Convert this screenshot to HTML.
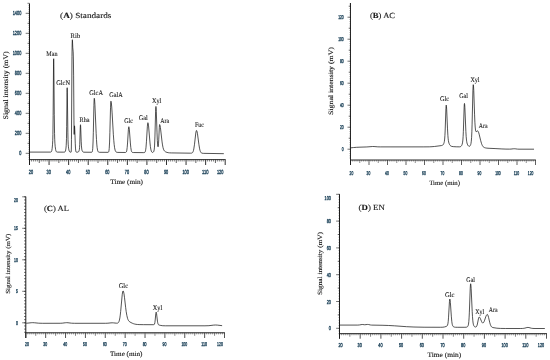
<!DOCTYPE html>
<html lang="en">
<head>
<meta charset="utf-8">
<title>Chromatograms</title>
<style>
html,body{margin:0;padding:0;background:#fff;}
body{width:550px;height:360px;overflow:hidden;}
svg{display:block;}
text{font-family:"Liberation Serif","DejaVu Serif",serif;fill:#161616;text-rendering:geometricPrecision;}
.tk{font-family:"Liberation Sans","DejaVu Sans",sans-serif;fill:#264a60;stroke:#264a60;stroke-width:0.4px;}
.pk{font-size:7px;stroke:#161616;stroke-width:0.1px;}
.al{stroke:#161616;stroke-width:0.12px;}
.ti{font-size:7.8px;stroke:#161616;stroke-width:0.1px;}
</style>
</head>
<body>
<svg width="550" height="360" viewBox="0 0 550 360">
<rect x="0" y="0" width="550" height="360" fill="#ffffff"/>
<g>
<path d="M29.5 3.5 V165" stroke="#1c1c1c" stroke-width="1.05" fill="none"/>
<path d="M29.2 159.6 H225.6" stroke="#1c1c1c" stroke-width="0.9" fill="none"/>
<path d="M29.5 159.6v5.4M49.07 159.6v5.4M68.64 159.6v5.4M88.21 159.6v5.4M107.78 159.6v5.4M127.35 159.6v5.4M146.92 159.6v5.4M166.49 159.6v5.4M186.06 159.6v5.4M205.63 159.6v5.4M225.2 159.6v5.4" stroke="#1c1c1c" stroke-width="0.9" fill="none"/>
<path d="M39.28 159.6v3.4M58.86 159.6v3.4M78.43 159.6v3.4M98 159.6v3.4M117.56 159.6v3.4M137.13 159.6v3.4M156.7 159.6v3.4M176.28 159.6v3.4M195.84 159.6v3.4M215.42 159.6v3.4" stroke="#1c1c1c" stroke-width="0.7" fill="none"/>
<path d="M31.46 159.6v1.9M33.41 159.6v1.9M35.37 159.6v1.9M37.33 159.6v1.9M41.24 159.6v1.9M43.2 159.6v1.9M45.16 159.6v1.9M47.11 159.6v1.9M51.03 159.6v1.9M52.98 159.6v1.9M54.94 159.6v1.9M56.9 159.6v1.9M60.81 159.6v1.9M62.77 159.6v1.9M64.73 159.6v1.9M66.68 159.6v1.9M70.6 159.6v1.9M72.55 159.6v1.9M74.51 159.6v1.9M76.47 159.6v1.9M80.38 159.6v1.9M82.34 159.6v1.9M84.3 159.6v1.9M86.25 159.6v1.9M90.17 159.6v1.9M92.12 159.6v1.9M94.08 159.6v1.9M96.04 159.6v1.9M99.95 159.6v1.9M101.91 159.6v1.9M103.87 159.6v1.9M105.82 159.6v1.9M109.74 159.6v1.9M111.69 159.6v1.9M113.65 159.6v1.9M115.61 159.6v1.9M119.52 159.6v1.9M121.48 159.6v1.9M123.44 159.6v1.9M125.39 159.6v1.9M129.31 159.6v1.9M131.26 159.6v1.9M133.22 159.6v1.9M135.18 159.6v1.9M139.09 159.6v1.9M141.05 159.6v1.9M143.01 159.6v1.9M144.96 159.6v1.9M148.88 159.6v1.9M150.83 159.6v1.9M152.79 159.6v1.9M154.75 159.6v1.9M158.66 159.6v1.9M160.62 159.6v1.9M162.58 159.6v1.9M164.53 159.6v1.9M168.45 159.6v1.9M170.4 159.6v1.9M172.36 159.6v1.9M174.32 159.6v1.9M178.23 159.6v1.9M180.19 159.6v1.9M182.15 159.6v1.9M184.1 159.6v1.9M188.02 159.6v1.9M189.97 159.6v1.9M191.93 159.6v1.9M193.89 159.6v1.9M197.8 159.6v1.9M199.76 159.6v1.9M201.72 159.6v1.9M203.67 159.6v1.9M207.59 159.6v1.9M209.54 159.6v1.9M211.5 159.6v1.9M213.46 159.6v1.9M217.37 159.6v1.9M219.33 159.6v1.9M221.29 159.6v1.9M223.24 159.6v1.9" stroke="#1c1c1c" stroke-width="0.55" fill="none"/>
<path d="M29.5 153.3h-3.8M29.5 143.3h-2M29.5 133.3h-3.8M29.5 123.3h-2M29.5 113.3h-3.8M29.5 103.3h-2M29.5 93.3h-3.8M29.5 83.3h-2M29.5 73.3h-3.8M29.5 63.3h-2M29.5 53.3h-3.8M29.5 43.3h-2M29.5 33.3h-3.8M29.5 23.3h-2M29.5 13.3h-3.8M29.5 3.3h-2" stroke="#1c1c1c" stroke-width="0.6" fill="none"/>
<path d="M29.5 159.3h-1M29.5 157.3h-1M29.5 155.3h-1M29.5 153.3h-1M29.5 151.3h-1M29.5 149.3h-1M29.5 147.3h-1M29.5 145.3h-1M29.5 143.3h-1M29.5 141.3h-1M29.5 139.3h-1M29.5 137.3h-1M29.5 135.3h-1M29.5 133.3h-1M29.5 131.3h-1M29.5 129.3h-1M29.5 127.3h-1M29.5 125.3h-1M29.5 123.3h-1M29.5 121.3h-1M29.5 119.3h-1M29.5 117.3h-1M29.5 115.3h-1M29.5 113.3h-1M29.5 111.3h-1M29.5 109.3h-1M29.5 107.3h-1M29.5 105.3h-1M29.5 103.3h-1M29.5 101.3h-1M29.5 99.3h-1M29.5 97.3h-1M29.5 95.3h-1M29.5 93.3h-1M29.5 91.3h-1M29.5 89.3h-1M29.5 87.3h-1M29.5 85.3h-1M29.5 83.3h-1M29.5 81.3h-1M29.5 79.3h-1M29.5 77.3h-1M29.5 75.3h-1M29.5 73.3h-1M29.5 71.3h-1M29.5 69.3h-1M29.5 67.3h-1M29.5 65.3h-1M29.5 63.3h-1M29.5 61.3h-1M29.5 59.3h-1M29.5 57.3h-1M29.5 55.3h-1M29.5 53.3h-1M29.5 51.3h-1M29.5 49.3h-1M29.5 47.3h-1M29.5 45.3h-1M29.5 43.3h-1M29.5 41.3h-1M29.5 39.3h-1M29.5 37.3h-1M29.5 35.3h-1M29.5 33.3h-1M29.5 31.3h-1M29.5 29.3h-1M29.5 27.3h-1M29.5 25.3h-1M29.5 23.3h-1M29.5 21.3h-1M29.5 19.3h-1M29.5 17.3h-1M29.5 15.3h-1M29.5 13.3h-1M29.5 11.3h-1M29.5 9.3h-1M29.5 7.3h-1M29.5 5.3h-1" stroke="#1c1c1c" stroke-width="0.5" fill="none"/>
<text x="21.3" y="155.45" text-anchor="end" class="tk" font-size="6.0" textLength="2.15" lengthAdjust="spacingAndGlyphs">0</text>
<text x="21.3" y="135.45" text-anchor="end" class="tk" font-size="6.0" textLength="6.45" lengthAdjust="spacingAndGlyphs">200</text>
<text x="21.3" y="115.45" text-anchor="end" class="tk" font-size="6.0" textLength="6.45" lengthAdjust="spacingAndGlyphs">400</text>
<text x="21.3" y="95.45" text-anchor="end" class="tk" font-size="6.0" textLength="6.45" lengthAdjust="spacingAndGlyphs">600</text>
<text x="21.3" y="75.45" text-anchor="end" class="tk" font-size="6.0" textLength="6.45" lengthAdjust="spacingAndGlyphs">800</text>
<text x="21.3" y="55.45" text-anchor="end" class="tk" font-size="6.0" textLength="8.6" lengthAdjust="spacingAndGlyphs">1000</text>
<text x="21.3" y="35.45" text-anchor="end" class="tk" font-size="6.0" textLength="8.6" lengthAdjust="spacingAndGlyphs">1200</text>
<text x="21.3" y="15.45" text-anchor="end" class="tk" font-size="6.0" textLength="8.6" lengthAdjust="spacingAndGlyphs">1400</text>
<text x="30.9" y="173.5" text-anchor="middle" class="tk" font-size="6.0" textLength="4.3" lengthAdjust="spacingAndGlyphs">20</text>
<text x="48.67" y="173.5" text-anchor="middle" class="tk" font-size="6.0" textLength="4.3" lengthAdjust="spacingAndGlyphs">30</text>
<text x="68.24" y="173.5" text-anchor="middle" class="tk" font-size="6.0" textLength="4.3" lengthAdjust="spacingAndGlyphs">40</text>
<text x="87.81" y="173.5" text-anchor="middle" class="tk" font-size="6.0" textLength="4.3" lengthAdjust="spacingAndGlyphs">50</text>
<text x="107.38" y="173.5" text-anchor="middle" class="tk" font-size="6.0" textLength="4.3" lengthAdjust="spacingAndGlyphs">60</text>
<text x="126.95" y="173.5" text-anchor="middle" class="tk" font-size="6.0" textLength="4.3" lengthAdjust="spacingAndGlyphs">70</text>
<text x="146.52" y="173.5" text-anchor="middle" class="tk" font-size="6.0" textLength="4.3" lengthAdjust="spacingAndGlyphs">80</text>
<text x="166.09" y="173.5" text-anchor="middle" class="tk" font-size="6.0" textLength="4.3" lengthAdjust="spacingAndGlyphs">90</text>
<text x="185.66" y="173.5" text-anchor="middle" class="tk" font-size="6.0" textLength="6.45" lengthAdjust="spacingAndGlyphs">100</text>
<text x="205.23" y="173.5" text-anchor="middle" class="tk" font-size="6.0" textLength="6.45" lengthAdjust="spacingAndGlyphs">110</text>
<text x="220.2" y="173.5" text-anchor="middle" class="tk" font-size="6.0" textLength="6.45" lengthAdjust="spacingAndGlyphs">120</text>
<path d="M29.89 152.1 L50.52 152.1 L50.99 152.02 L51.3 151.79 L51.54 151.42 L51.77 150.74 L52.16 148.5 L52.51 144.81 L52.75 140.34 L52.91 134.47 L53.14 115.65 L53.53 64.96 L53.61 59.83 L53.69 58.72 L53.85 66.13 L54.28 114.19 L54.55 133.7 L54.71 139.23 L54.9 143.15 L55.21 146.73 L55.61 149.49 L55.92 150.8 L56.27 151.59 L56.51 151.85 L56.74 152 L57.45 152.12 L63.83 152.15 L64.61 152.09 L64.96 151.91 L65.23 151.55 L65.47 150.94 L65.7 149.93 L65.98 148.09 L66.21 145.59 L66.49 138.64 L66.68 126.32 L67.04 92.56 L67.11 88.59 L67.19 87.73 L67.39 95.96 L67.86 132.87 L68.01 139.61 L68.21 144.19 L68.37 146.21 L68.6 148.17 L68.91 149.93 L69.23 151.05 L69.54 151.66 L69.93 152.01 L70.32 152.13 L70.99 152.17 L71.11 152.15 L71.18 152.01 L71.26 151.32 L71.34 149.09 L71.46 139.7 L71.97 56.28 L72.16 43.86 L72.28 40.43 L72.36 39.72 L72.48 40.85 L72.79 47.83 L73.18 51.85 L73.42 59.99 L73.61 75.87 L73.96 120.92 L74.12 133.19 L74.16 134.23 L74.2 134.45 L74.24 133.94 L74.43 126.86 L74.51 125.82 L74.59 126.25 L74.78 129.52 L75.25 143.18 L75.49 148.07 L75.76 150.92 L75.96 151.73 L76.19 152.08 L76.55 152.18 L77.6 152.18 L78.03 152.1 L78.39 151.91 L78.7 151.55 L78.97 151 L79.21 150.24 L79.36 149.45 L79.56 147.71 L79.76 144.37 L80.26 127.96 L80.38 125.42 L80.5 124.73 L80.62 125.67 L80.73 127.88 L81.2 141.21 L81.44 145.9 L81.75 149.07 L81.99 150.19 L82.26 150.95 L82.57 151.51 L82.97 151.91 L83.4 152.12 L83.98 152.21 L91.58 152.25 L91.85 152.19 L92.05 152.07 L92.32 151.55 L92.55 150.37 L92.75 148.38 L93.06 142.03 L93.34 132.34 L93.92 105.33 L94.12 99.75 L94.28 98.28 L94.43 98.67 L94.59 99.84 L94.9 104.27 L96.16 133.54 L96.47 139.49 L96.78 144.05 L97.13 147.62 L97.56 150.18 L97.8 150.98 L98.03 151.51 L98.35 151.92 L98.7 152.15 L99.17 152.26 L99.87 152.3 L107.94 152.34 L108.25 152.27 L108.48 152.11 L108.68 151.79 L108.84 151.32 L109.03 150.26 L109.23 148.41 L109.58 142.04 L109.89 132.3 L110.52 107.8 L110.72 102.92 L110.83 101.46 L110.91 101.18 L110.99 101.23 L111.11 101.52 L111.3 102.55 L111.73 106.94 L112.12 112.9 L113.34 134.29 L113.77 140.28 L114.16 144.45 L114.59 147.71 L115.1 150.09 L115.37 150.88 L115.69 151.5 L116.04 151.92 L116.43 152.18 L116.98 152.34 L117.84 152.42 L125.28 152.47 L125.71 152.42 L125.98 152.31 L126.21 152.1 L126.41 151.77 L126.65 151.09 L126.84 150.18 L127.19 147.43 L127.55 142.99 L128.37 129.74 L128.6 127.44 L128.72 126.86 L128.84 126.72 L128.95 126.91 L129.11 127.62 L129.39 129.95 L130.36 142.99 L130.79 147.46 L131.26 150.4 L131.54 151.35 L131.81 151.92 L132.05 152.2 L132.36 152.4 L132.75 152.5 L133.3 152.54 L143.75 152.64 L144.42 152.57 L144.85 152.32 L145.2 151.77 L145.51 150.75 L145.78 149.19 L146.02 147.21 L146.45 141.77 L147.39 126.21 L147.66 123.47 L147.78 122.88 L147.9 122.69 L148.06 122.87 L148.21 123.42 L148.56 125.86 L150.01 142.97 L150.4 146.53 L150.79 149.09 L151.26 150.98 L151.54 151.64 L151.85 152.11 L152.2 152.37 L152.6 152.45 L153.03 152.32 L153.42 152 L153.65 151.66 L153.85 151.23 L154.16 149.91 L154.4 147.9 L154.59 145.06 L154.94 136.08 L155.61 111.25 L155.77 107.72 L155.92 106.46 L156 106.65 L156.12 107.73 L156.31 111.37 L157.02 132.87 L157.33 140.42 L157.64 144.95 L157.8 146.16 L158 146.81 L158.07 146.8 L158.15 146.64 L158.27 146.09 L158.51 143.84 L158.78 139.17 L159.33 127.27 L159.48 125.22 L159.56 124.69 L159.64 124.53 L159.84 124.79 L160.03 125.39 L160.42 127.51 L162.07 141.93 L162.5 144.93 L162.97 147.37 L163.48 149.15 L163.79 149.91 L164.1 150.47 L164.45 150.94 L164.89 151.36 L165.39 151.72 L166.02 152.05 L167.04 152.42 L168.17 152.68 L169.5 152.83 L171.27 152.92 L190.52 153.18 L191.62 153.1 L192.28 152.82 L192.71 152.36 L193.11 151.61 L193.46 150.52 L193.81 148.95 L194.44 144.77 L195.81 133 L196.2 131.02 L196.39 130.56 L196.55 130.47 L196.75 130.65 L196.98 131.24 L197.41 133.27 L198.94 144.72 L199.64 148.85 L199.99 150.3 L200.39 151.46 L200.78 152.24 L201.25 152.8 L201.6 153.04 L202.03 153.2 L203.28 153.35 L223.83 153.68" stroke="#0a0a0a" stroke-width="0.7" fill="none" stroke-linejoin="round"/>
<text x="46.3" y="55.8" class="pk" textLength="11.2" lengthAdjust="spacingAndGlyphs">Man</text>
<text x="56.2" y="85" class="pk" textLength="13.8" lengthAdjust="spacingAndGlyphs">GlcN</text>
<text x="70.5" y="38" class="pk" textLength="9.5" lengthAdjust="spacingAndGlyphs">Rib</text>
<text x="79.5" y="122" class="pk" textLength="10" lengthAdjust="spacingAndGlyphs">Rha</text>
<text x="89.2" y="94.7" class="pk" textLength="13.8" lengthAdjust="spacingAndGlyphs">GlcA</text>
<text x="109.2" y="96.7" class="pk" textLength="13.6" lengthAdjust="spacingAndGlyphs">GalA</text>
<text x="124.2" y="122.5" class="pk" textLength="8.8" lengthAdjust="spacingAndGlyphs">Glc</text>
<text x="138.8" y="120" class="pk" textLength="9" lengthAdjust="spacingAndGlyphs">Gal</text>
<text x="152" y="103" class="pk" textLength="9.3" lengthAdjust="spacingAndGlyphs">Xyl</text>
<text x="160.3" y="122.5" class="pk" textLength="8.9" lengthAdjust="spacingAndGlyphs">Ara</text>
<text x="195" y="126.7" class="pk" textLength="9" lengthAdjust="spacingAndGlyphs">Fuc</text>
<text x="60.1" y="18" class="ti" textLength="51.3" lengthAdjust="spacingAndGlyphs">(<tspan font-weight="bold">A</tspan>) Standards</text>
<text transform="translate(7.7 85.4) rotate(-90)" text-anchor="middle" font-size="7.0" class="al" textLength="68.2" lengthAdjust="spacingAndGlyphs">Signal intensity (mV)</text>
<text x="110.3" y="183.7" font-size="6.8" class="al" textLength="32.7" lengthAdjust="spacingAndGlyphs">Time (min)</text>
</g>
<g>
<path d="M350.5 3 V165" stroke="#1c1c1c" stroke-width="0.95" fill="none"/>
<path d="M350.2 160 H535.9" stroke="#1c1c1c" stroke-width="0.95" fill="none"/>
<path d="M350.5 160v5M369 160v5M387.5 160v5M406 160v5M424.5 160v5M443 160v5M461.5 160v5M480 160v5M498.5 160v5M517 160v5M535.5 160v5" stroke="#1c1c1c" stroke-width="0.7" fill="none"/>
<path d="M359.75 160v3M378.25 160v3M396.75 160v3M415.25 160v3M433.75 160v3M452.25 160v3M470.75 160v3M489.25 160v3M507.75 160v3M526.25 160v3" stroke="#1c1c1c" stroke-width="0.5" fill="none"/>
<path d="M352.35 160v1.6M354.2 160v1.6M356.05 160v1.6M357.9 160v1.6M361.6 160v1.6M363.45 160v1.6M365.3 160v1.6M367.15 160v1.6M370.85 160v1.6M372.7 160v1.6M374.55 160v1.6M376.4 160v1.6M380.1 160v1.6M381.95 160v1.6M383.8 160v1.6M385.65 160v1.6M389.35 160v1.6M391.2 160v1.6M393.05 160v1.6M394.9 160v1.6M398.6 160v1.6M400.45 160v1.6M402.3 160v1.6M404.15 160v1.6M407.85 160v1.6M409.7 160v1.6M411.55 160v1.6M413.4 160v1.6M417.1 160v1.6M418.95 160v1.6M420.8 160v1.6M422.65 160v1.6M426.35 160v1.6M428.2 160v1.6M430.05 160v1.6M431.9 160v1.6M435.6 160v1.6M437.45 160v1.6M439.3 160v1.6M441.15 160v1.6M444.85 160v1.6M446.7 160v1.6M448.55 160v1.6M450.4 160v1.6M454.1 160v1.6M455.95 160v1.6M457.8 160v1.6M459.65 160v1.6M463.35 160v1.6M465.2 160v1.6M467.05 160v1.6M468.9 160v1.6M472.6 160v1.6M474.45 160v1.6M476.3 160v1.6M478.15 160v1.6M481.85 160v1.6M483.7 160v1.6M485.55 160v1.6M487.4 160v1.6M491.1 160v1.6M492.95 160v1.6M494.8 160v1.6M496.65 160v1.6M500.35 160v1.6M502.2 160v1.6M504.05 160v1.6M505.9 160v1.6M509.6 160v1.6M511.45 160v1.6M513.3 160v1.6M515.15 160v1.6M518.85 160v1.6M520.7 160v1.6M522.55 160v1.6M524.4 160v1.6M528.1 160v1.6M529.95 160v1.6M531.8 160v1.6M533.65 160v1.6" stroke="#1c1c1c" stroke-width="0.4" fill="none"/>
<path d="M350.5 149.2h-3M350.5 138.2h-1.8M350.5 127.2h-3M350.5 116.2h-1.8M350.5 105.2h-3M350.5 94.2h-1.8M350.5 83.2h-3M350.5 72.2h-1.8M350.5 61.2h-3M350.5 50.2h-1.8M350.5 39.2h-3M350.5 28.2h-1.8M350.5 17.2h-3M350.5 6.2h-1.8" stroke="#1c1c1c" stroke-width="0.6" fill="none"/>
<path d="M350.5 158h-0.95M350.5 155.8h-0.95M350.5 153.6h-0.95M350.5 151.4h-0.95M350.5 149.2h-0.95M350.5 147h-0.95M350.5 144.8h-0.95M350.5 142.6h-0.95M350.5 140.4h-0.95M350.5 138.2h-0.95M350.5 136h-0.95M350.5 133.8h-0.95M350.5 131.6h-0.95M350.5 129.4h-0.95M350.5 127.2h-0.95M350.5 125h-0.95M350.5 122.8h-0.95M350.5 120.6h-0.95M350.5 118.4h-0.95M350.5 116.2h-0.95M350.5 114h-0.95M350.5 111.8h-0.95M350.5 109.6h-0.95M350.5 107.4h-0.95M350.5 105.2h-0.95M350.5 103h-0.95M350.5 100.8h-0.95M350.5 98.6h-0.95M350.5 96.4h-0.95M350.5 94.2h-0.95M350.5 92h-0.95M350.5 89.8h-0.95M350.5 87.6h-0.95M350.5 85.4h-0.95M350.5 83.2h-0.95M350.5 81h-0.95M350.5 78.8h-0.95M350.5 76.6h-0.95M350.5 74.4h-0.95M350.5 72.2h-0.95M350.5 70h-0.95M350.5 67.8h-0.95M350.5 65.6h-0.95M350.5 63.4h-0.95M350.5 61.2h-0.95M350.5 59h-0.95M350.5 56.8h-0.95M350.5 54.6h-0.95M350.5 52.4h-0.95M350.5 50.2h-0.95M350.5 48h-0.95M350.5 45.8h-0.95M350.5 43.6h-0.95M350.5 41.4h-0.95M350.5 39.2h-0.95M350.5 37h-0.95M350.5 34.8h-0.95M350.5 32.6h-0.95M350.5 30.4h-0.95M350.5 28.2h-0.95M350.5 26h-0.95M350.5 23.8h-0.95M350.5 21.6h-0.95M350.5 19.4h-0.95M350.5 17.2h-0.95M350.5 15h-0.95M350.5 12.8h-0.95M350.5 10.6h-0.95M350.5 8.4h-0.95M350.5 6.2h-0.95M350.5 4h-0.95" stroke="#1c1c1c" stroke-width="0.5" fill="none"/>
<text x="343.7" y="151.15" text-anchor="end" class="tk" font-size="5.6" textLength="1.85" lengthAdjust="spacingAndGlyphs">0</text>
<text x="343.7" y="129.15" text-anchor="end" class="tk" font-size="5.6" textLength="3.7" lengthAdjust="spacingAndGlyphs">20</text>
<text x="343.7" y="107.15" text-anchor="end" class="tk" font-size="5.6" textLength="3.7" lengthAdjust="spacingAndGlyphs">40</text>
<text x="343.7" y="85.15" text-anchor="end" class="tk" font-size="5.6" textLength="3.7" lengthAdjust="spacingAndGlyphs">60</text>
<text x="343.7" y="63.15" text-anchor="end" class="tk" font-size="5.6" textLength="3.7" lengthAdjust="spacingAndGlyphs">80</text>
<text x="343.7" y="41.15" text-anchor="end" class="tk" font-size="5.6" textLength="5.55" lengthAdjust="spacingAndGlyphs">100</text>
<text x="343.7" y="19.15" text-anchor="end" class="tk" font-size="5.6" textLength="5.55" lengthAdjust="spacingAndGlyphs">120</text>
<text x="351.4" y="174.5" text-anchor="middle" class="tk" font-size="5.6" textLength="3.7" lengthAdjust="spacingAndGlyphs">20</text>
<text x="368.4" y="174.5" text-anchor="middle" class="tk" font-size="5.6" textLength="3.7" lengthAdjust="spacingAndGlyphs">30</text>
<text x="386.9" y="174.5" text-anchor="middle" class="tk" font-size="5.6" textLength="3.7" lengthAdjust="spacingAndGlyphs">40</text>
<text x="405.4" y="174.5" text-anchor="middle" class="tk" font-size="5.6" textLength="3.7" lengthAdjust="spacingAndGlyphs">50</text>
<text x="423.9" y="174.5" text-anchor="middle" class="tk" font-size="5.6" textLength="3.7" lengthAdjust="spacingAndGlyphs">60</text>
<text x="442.4" y="174.5" text-anchor="middle" class="tk" font-size="5.6" textLength="3.7" lengthAdjust="spacingAndGlyphs">70</text>
<text x="460.9" y="174.5" text-anchor="middle" class="tk" font-size="5.6" textLength="3.7" lengthAdjust="spacingAndGlyphs">80</text>
<text x="479.4" y="174.5" text-anchor="middle" class="tk" font-size="5.6" textLength="3.7" lengthAdjust="spacingAndGlyphs">90</text>
<text x="497.9" y="174.5" text-anchor="middle" class="tk" font-size="5.6" textLength="5.55" lengthAdjust="spacingAndGlyphs">100</text>
<text x="516.4" y="174.5" text-anchor="middle" class="tk" font-size="5.6" textLength="5.55" lengthAdjust="spacingAndGlyphs">110</text>
<text x="530.6" y="174.5" text-anchor="middle" class="tk" font-size="5.6" textLength="5.55" lengthAdjust="spacingAndGlyphs">120</text>
<path d="M350.87 147.83 L353.42 147.56 L356.27 147.34 L359.97 147.17 L366.89 146.95 L372.59 146.5 L374.07 146.54 L377.81 146.83 L380.58 146.9 L423.17 146.89 L429.24 146.83 L432.01 146.7 L434.53 146.48 L441.41 145.59 L442.33 145.35 L442.78 145.07 L443.19 144.64 L443.56 144.04 L443.85 143.37 L444.11 142.56 L444.33 141.57 L444.67 139.05 L444.92 135.54 L445.15 131 L445.92 108.66 L446.11 105.7 L446.18 105.19 L446.26 105.09 L446.37 105.49 L446.48 106.45 L446.7 109.85 L447.48 128.13 L447.88 135.45 L448.11 138.16 L448.37 140.36 L448.66 142.02 L448.99 143.23 L449.51 144.44 L450.14 145.39 L450.84 146.01 L451.66 146.38 L453.21 146.64 L456.21 146.81 L459.32 146.85 L459.98 146.8 L460.46 146.67 L460.91 146.42 L461.31 146.02 L461.69 145.43 L462.02 144.68 L462.5 142.88 L462.87 140.06 L463.13 136.44 L463.35 131.7 L464.16 106.88 L464.31 104.33 L464.46 103.44 L464.53 103.58 L464.64 104.29 L464.87 107.4 L465.87 131.46 L466.16 136.44 L466.5 140.08 L466.72 141.66 L466.98 142.93 L467.31 144.03 L467.68 144.87 L468.16 145.63 L468.64 146.1 L469.16 146.31 L469.64 146.22 L470.01 145.92 L470.38 145.36 L470.68 144.64 L470.94 143.68 L471.31 141.21 L471.6 137.39 L471.86 131.79 L472.08 124.87 L472.9 90.96 L473.08 86.31 L473.19 84.95 L473.27 84.68 L473.38 84.94 L473.49 85.89 L473.75 90.42 L474.56 114.18 L474.89 122.18 L475.19 127.01 L475.52 130.11 L475.75 131.14 L475.89 131.5 L476.04 131.68 L476.19 131.72 L476.34 131.67 L477.08 131.02 L477.48 130.87 L477.71 130.94 L477.93 131.12 L478.37 131.85 L478.74 132.81 L479.15 134.19 L480.7 140.66 L481.44 143.28 L481.85 144.42 L482.26 145.33 L482.7 146.11 L483.18 146.72 L483.81 147.26 L484.55 147.64 L485.51 147.92 L486.81 148.13 L489.07 148.31 L495.06 148.57 L501.87 148.95 L505.97 149.1 L509.64 149.14 L511.01 149.07 L513.3 148.8 L514.26 148.75 L515.19 148.81 L517.44 149.1 L519 149.18 L534.02 149.2" stroke="#0a0a0a" stroke-width="0.7" fill="none" stroke-linejoin="round"/>
<text x="440" y="101.3" class="pk" textLength="9.2" lengthAdjust="spacingAndGlyphs">Glc</text>
<text x="459.2" y="98.3" class="pk" textLength="8.8" lengthAdjust="spacingAndGlyphs">Gal</text>
<text x="470.5" y="81.7" class="pk" textLength="9" lengthAdjust="spacingAndGlyphs">Xyl</text>
<text x="478.7" y="127.5" class="pk" textLength="8.8" lengthAdjust="spacingAndGlyphs">Ara</text>
<text x="370" y="18" class="ti" textLength="25.1" lengthAdjust="spacingAndGlyphs">(<tspan font-weight="bold">B</tspan>) AC</text>
<text transform="translate(332.6 81) rotate(-90)" text-anchor="middle" font-size="6.6" class="al" textLength="68" lengthAdjust="spacingAndGlyphs">Signal intensity (mV)</text>
<text x="429.2" y="184.7" font-size="6.6" class="al" textLength="30.8" lengthAdjust="spacingAndGlyphs">Time (min)</text>
</g>
<g>
<path d="M25.8 196.6 V338" stroke="#1c1c1c" stroke-width="1.0" fill="none"/>
<path d="M25.5 332.8 H224.9" stroke="#1c1c1c" stroke-width="1.0" fill="none"/>
<path d="M25.8 332.8v5.2M45.67 332.8v5.2M65.54 332.8v5.2M85.41 332.8v5.2M105.28 332.8v5.2M125.15 332.8v5.2M145.02 332.8v5.2M164.89 332.8v5.2M184.76 332.8v5.2M204.63 332.8v5.2M224.5 332.8v5.2" stroke="#1c1c1c" stroke-width="0.75" fill="none"/>
<path d="M35.73 332.8v3M55.61 332.8v3M75.48 332.8v3M95.34 332.8v3M115.22 332.8v3M135.09 332.8v3M154.96 332.8v3M174.83 332.8v3M194.7 332.8v3M214.57 332.8v3" stroke="#1c1c1c" stroke-width="0.55" fill="none"/>
<path d="M27.79 332.8v1.6M29.77 332.8v1.6M31.76 332.8v1.6M33.75 332.8v1.6M37.72 332.8v1.6M39.71 332.8v1.6M41.7 332.8v1.6M43.68 332.8v1.6M47.66 332.8v1.6M49.64 332.8v1.6M51.63 332.8v1.6M53.62 332.8v1.6M57.59 332.8v1.6M59.58 332.8v1.6M61.57 332.8v1.6M63.55 332.8v1.6M67.53 332.8v1.6M69.51 332.8v1.6M71.5 332.8v1.6M73.49 332.8v1.6M77.46 332.8v1.6M79.45 332.8v1.6M81.44 332.8v1.6M83.42 332.8v1.6M87.4 332.8v1.6M89.38 332.8v1.6M91.37 332.8v1.6M93.36 332.8v1.6M97.33 332.8v1.6M99.32 332.8v1.6M101.31 332.8v1.6M103.29 332.8v1.6M107.27 332.8v1.6M109.25 332.8v1.6M111.24 332.8v1.6M113.23 332.8v1.6M117.2 332.8v1.6M119.19 332.8v1.6M121.18 332.8v1.6M123.16 332.8v1.6M127.14 332.8v1.6M129.12 332.8v1.6M131.11 332.8v1.6M133.1 332.8v1.6M137.07 332.8v1.6M139.06 332.8v1.6M141.05 332.8v1.6M143.03 332.8v1.6M147.01 332.8v1.6M148.99 332.8v1.6M150.98 332.8v1.6M152.97 332.8v1.6M156.94 332.8v1.6M158.93 332.8v1.6M160.92 332.8v1.6M162.9 332.8v1.6M166.88 332.8v1.6M168.86 332.8v1.6M170.85 332.8v1.6M172.84 332.8v1.6M176.81 332.8v1.6M178.8 332.8v1.6M180.79 332.8v1.6M182.77 332.8v1.6M186.75 332.8v1.6M188.73 332.8v1.6M190.72 332.8v1.6M192.71 332.8v1.6M196.68 332.8v1.6M198.67 332.8v1.6M200.66 332.8v1.6M202.64 332.8v1.6M206.62 332.8v1.6M208.6 332.8v1.6M210.59 332.8v1.6M212.58 332.8v1.6M216.55 332.8v1.6M218.54 332.8v1.6M220.53 332.8v1.6M222.51 332.8v1.6" stroke="#1c1c1c" stroke-width="0.4" fill="none"/>
<path d="M25.8 322.8h-3.6M25.8 291.3h-3.6M25.8 259.8h-3.6M25.8 228.3h-3.6M25.8 196.8h-3.6" stroke="#1c1c1c" stroke-width="0.6" fill="none"/>
<path d="M25.8 332.25h-1.7M25.8 329.1h-1.7M25.8 325.95h-1.7M25.8 322.8h-1.7M25.8 319.65h-1.7M25.8 316.5h-1.7M25.8 313.35h-1.7M25.8 310.2h-1.7M25.8 307.05h-1.7M25.8 303.9h-1.7M25.8 300.75h-1.7M25.8 297.6h-1.7M25.8 294.45h-1.7M25.8 291.3h-1.7M25.8 288.15h-1.7M25.8 285h-1.7M25.8 281.85h-1.7M25.8 278.7h-1.7M25.8 275.55h-1.7M25.8 272.4h-1.7M25.8 269.25h-1.7M25.8 266.1h-1.7M25.8 262.95h-1.7M25.8 259.8h-1.7M25.8 256.65h-1.7M25.8 253.5h-1.7M25.8 250.35h-1.7M25.8 247.2h-1.7M25.8 244.05h-1.7M25.8 240.9h-1.7M25.8 237.75h-1.7M25.8 234.6h-1.7M25.8 231.45h-1.7M25.8 228.3h-1.7M25.8 225.15h-1.7M25.8 222h-1.7M25.8 218.85h-1.7M25.8 215.7h-1.7M25.8 212.55h-1.7M25.8 209.4h-1.7M25.8 206.25h-1.7M25.8 203.1h-1.7M25.8 199.95h-1.7M25.8 196.8h-1.7" stroke="#1c1c1c" stroke-width="0.65" fill="none"/>
<text x="18" y="324.8" text-anchor="end" class="tk" font-size="5.6" textLength="1.95" lengthAdjust="spacingAndGlyphs">0</text>
<text x="18" y="293.3" text-anchor="end" class="tk" font-size="5.6" textLength="1.95" lengthAdjust="spacingAndGlyphs">5</text>
<text x="18" y="261.8" text-anchor="end" class="tk" font-size="5.6" textLength="3.9" lengthAdjust="spacingAndGlyphs">10</text>
<text x="18" y="230.3" text-anchor="end" class="tk" font-size="5.6" textLength="3.9" lengthAdjust="spacingAndGlyphs">15</text>
<text x="18" y="202" text-anchor="end" class="tk" font-size="5.6" textLength="3.9" lengthAdjust="spacingAndGlyphs">20</text>
<text x="27" y="346.2" text-anchor="middle" class="tk" font-size="5.6" textLength="3.9" lengthAdjust="spacingAndGlyphs">20</text>
<text x="45.27" y="346.2" text-anchor="middle" class="tk" font-size="5.6" textLength="3.9" lengthAdjust="spacingAndGlyphs">30</text>
<text x="65.14" y="346.2" text-anchor="middle" class="tk" font-size="5.6" textLength="3.9" lengthAdjust="spacingAndGlyphs">40</text>
<text x="85.01" y="346.2" text-anchor="middle" class="tk" font-size="5.6" textLength="3.9" lengthAdjust="spacingAndGlyphs">50</text>
<text x="104.88" y="346.2" text-anchor="middle" class="tk" font-size="5.6" textLength="3.9" lengthAdjust="spacingAndGlyphs">60</text>
<text x="124.75" y="346.2" text-anchor="middle" class="tk" font-size="5.6" textLength="3.9" lengthAdjust="spacingAndGlyphs">70</text>
<text x="144.62" y="346.2" text-anchor="middle" class="tk" font-size="5.6" textLength="3.9" lengthAdjust="spacingAndGlyphs">80</text>
<text x="164.49" y="346.2" text-anchor="middle" class="tk" font-size="5.6" textLength="3.9" lengthAdjust="spacingAndGlyphs">90</text>
<text x="184.36" y="346.2" text-anchor="middle" class="tk" font-size="5.6" textLength="5.85" lengthAdjust="spacingAndGlyphs">100</text>
<text x="204.23" y="346.2" text-anchor="middle" class="tk" font-size="5.6" textLength="5.85" lengthAdjust="spacingAndGlyphs">110</text>
<text x="220" y="346.2" text-anchor="middle" class="tk" font-size="5.6" textLength="5.85" lengthAdjust="spacingAndGlyphs">120</text>
<path d="M26.2 323.23 L27.99 323.1 L31.2 322.74 L32.71 322.67 L34.34 322.75 L38.76 323.2 L42.69 323.3 L60.25 323.28 L62.24 323.16 L65.38 322.75 L66.69 322.67 L68 322.75 L71.54 323.19 L74.52 323.3 L105.68 323.29 L107.94 323.2 L111 322.86 L112.16 322.8 L113.39 322.86 L116.41 323.18 L117.12 323.18 L117.68 323.07 L118.08 322.87 L118.39 322.58 L118.67 322.19 L118.95 321.63 L119.43 320.11 L119.86 317.91 L120.26 315.11 L120.66 311.53 L122.21 294.77 L122.65 291.84 L122.88 291.04 L123.08 290.85 L123.28 291.02 L123.52 291.6 L124 293.86 L124.47 297.29 L125.63 307.32 L126.18 311.59 L126.86 315.57 L127.57 318.41 L127.93 319.43 L128.33 320.27 L128.77 320.93 L129.28 321.48 L129.96 321.98 L130.95 322.55 L132.3 323.21 L133.5 323.69 L134.69 324.05 L135.92 324.3 L137.35 324.47 L139.14 324.59 L143.35 324.67 L153.13 324.69 L153.76 324.67 L154.08 324.58 L154.32 324.38 L154.52 324.01 L154.88 322.56 L155.19 320.06 L155.79 313.77 L155.99 312.47 L156.15 312.14 L156.23 312.2 L156.35 312.5 L156.54 313.5 L157.46 321.15 L157.74 322.79 L158.01 323.85 L158.33 324.52 L158.73 324.89 L159.29 325.1 L160.84 325.46 L162.78 325.73 L165.61 325.81 L204.95 325.81 L208.92 325.68 L213.77 325.1 L215.6 325.01 L217.39 325.11 L222.12 325.67" stroke="#0a0a0a" stroke-width="0.7" fill="none" stroke-linejoin="round"/>
<text x="118.7" y="287.5" class="pk" textLength="9.3" lengthAdjust="spacingAndGlyphs">Glc</text>
<text x="152.8" y="310" class="pk" textLength="9.4" lengthAdjust="spacingAndGlyphs">Xyl</text>
<text x="43.9" y="211" class="ti" textLength="25.1" lengthAdjust="spacingAndGlyphs">(<tspan font-weight="bold">C</tspan>) AL</text>
<text transform="translate(10 263.8) rotate(-90)" text-anchor="middle" font-size="6.2" class="al" textLength="60" lengthAdjust="spacingAndGlyphs">Signal intensity (mV)</text>
<text x="110" y="355.8" font-size="6.7" class="al" textLength="32.5" lengthAdjust="spacingAndGlyphs">Time (min)</text>
</g>
<g>
<path d="M339.5 194.2 V338.7" stroke="#1c1c1c" stroke-width="1.0" fill="none"/>
<path d="M339.2 333.7 H546.9" stroke="#1c1c1c" stroke-width="1.0" fill="none"/>
<path d="M339.5 333.7v5M360.2 333.7v5M380.9 333.7v5M401.6 333.7v5M422.3 333.7v5M443 333.7v5M463.7 333.7v5M484.4 333.7v5M505.1 333.7v5M525.8 333.7v5M546.5 333.7v5" stroke="#1c1c1c" stroke-width="0.75" fill="none"/>
<path d="M349.85 333.7v3M370.55 333.7v3M391.25 333.7v3M411.95 333.7v3M432.65 333.7v3M453.35 333.7v3M474.05 333.7v3M494.75 333.7v3M515.45 333.7v3M536.15 333.7v3" stroke="#1c1c1c" stroke-width="0.55" fill="none"/>
<path d="M341.57 333.7v1.6M343.64 333.7v1.6M345.71 333.7v1.6M347.78 333.7v1.6M351.92 333.7v1.6M353.99 333.7v1.6M356.06 333.7v1.6M358.13 333.7v1.6M362.27 333.7v1.6M364.34 333.7v1.6M366.41 333.7v1.6M368.48 333.7v1.6M372.62 333.7v1.6M374.69 333.7v1.6M376.76 333.7v1.6M378.83 333.7v1.6M382.97 333.7v1.6M385.04 333.7v1.6M387.11 333.7v1.6M389.18 333.7v1.6M393.32 333.7v1.6M395.39 333.7v1.6M397.46 333.7v1.6M399.53 333.7v1.6M403.67 333.7v1.6M405.74 333.7v1.6M407.81 333.7v1.6M409.88 333.7v1.6M414.02 333.7v1.6M416.09 333.7v1.6M418.16 333.7v1.6M420.23 333.7v1.6M424.37 333.7v1.6M426.44 333.7v1.6M428.51 333.7v1.6M430.58 333.7v1.6M434.72 333.7v1.6M436.79 333.7v1.6M438.86 333.7v1.6M440.93 333.7v1.6M445.07 333.7v1.6M447.14 333.7v1.6M449.21 333.7v1.6M451.28 333.7v1.6M455.42 333.7v1.6M457.49 333.7v1.6M459.56 333.7v1.6M461.63 333.7v1.6M465.77 333.7v1.6M467.84 333.7v1.6M469.91 333.7v1.6M471.98 333.7v1.6M476.12 333.7v1.6M478.19 333.7v1.6M480.26 333.7v1.6M482.33 333.7v1.6M486.47 333.7v1.6M488.54 333.7v1.6M490.61 333.7v1.6M492.68 333.7v1.6M496.82 333.7v1.6M498.89 333.7v1.6M500.96 333.7v1.6M503.03 333.7v1.6M507.17 333.7v1.6M509.24 333.7v1.6M511.31 333.7v1.6M513.38 333.7v1.6M517.52 333.7v1.6M519.59 333.7v1.6M521.66 333.7v1.6M523.73 333.7v1.6M527.87 333.7v1.6M529.94 333.7v1.6M532.01 333.7v1.6M534.08 333.7v1.6M538.22 333.7v1.6M540.29 333.7v1.6M542.36 333.7v1.6M544.43 333.7v1.6" stroke="#1c1c1c" stroke-width="0.4" fill="none"/>
<path d="M339.5 328.3h-3.4M339.5 314.9h-1.8M339.5 301.5h-3.4M339.5 288.1h-1.8M339.5 274.7h-3.4M339.5 261.3h-1.8M339.5 247.9h-3.4M339.5 234.5h-1.8M339.5 221.1h-3.4M339.5 207.7h-1.8M339.5 194.3h-3.4" stroke="#1c1c1c" stroke-width="0.6" fill="none"/>
<path d="M339.5 333.66h-0.95M339.5 330.98h-0.95M339.5 328.3h-0.95M339.5 325.62h-0.95M339.5 322.94h-0.95M339.5 320.26h-0.95M339.5 317.58h-0.95M339.5 314.9h-0.95M339.5 312.22h-0.95M339.5 309.54h-0.95M339.5 306.86h-0.95M339.5 304.18h-0.95M339.5 301.5h-0.95M339.5 298.82h-0.95M339.5 296.14h-0.95M339.5 293.46h-0.95M339.5 290.78h-0.95M339.5 288.1h-0.95M339.5 285.42h-0.95M339.5 282.74h-0.95M339.5 280.06h-0.95M339.5 277.38h-0.95M339.5 274.7h-0.95M339.5 272.02h-0.95M339.5 269.34h-0.95M339.5 266.66h-0.95M339.5 263.98h-0.95M339.5 261.3h-0.95M339.5 258.62h-0.95M339.5 255.94h-0.95M339.5 253.26h-0.95M339.5 250.58h-0.95M339.5 247.9h-0.95M339.5 245.22h-0.95M339.5 242.54h-0.95M339.5 239.86h-0.95M339.5 237.18h-0.95M339.5 234.5h-0.95M339.5 231.82h-0.95M339.5 229.14h-0.95M339.5 226.46h-0.95M339.5 223.78h-0.95M339.5 221.1h-0.95M339.5 218.42h-0.95M339.5 215.74h-0.95M339.5 213.06h-0.95M339.5 210.38h-0.95M339.5 207.7h-0.95M339.5 205.02h-0.95M339.5 202.34h-0.95M339.5 199.66h-0.95M339.5 196.98h-0.95M339.5 194.3h-0.95" stroke="#1c1c1c" stroke-width="0.5" fill="none"/>
<text x="330.9" y="330.3" text-anchor="end" class="tk" font-size="5.7" textLength="2.1" lengthAdjust="spacingAndGlyphs">0</text>
<text x="330.9" y="303.5" text-anchor="end" class="tk" font-size="5.7" textLength="4.2" lengthAdjust="spacingAndGlyphs">20</text>
<text x="330.9" y="276.7" text-anchor="end" class="tk" font-size="5.7" textLength="4.2" lengthAdjust="spacingAndGlyphs">40</text>
<text x="330.9" y="249.9" text-anchor="end" class="tk" font-size="5.7" textLength="4.2" lengthAdjust="spacingAndGlyphs">60</text>
<text x="330.9" y="223.1" text-anchor="end" class="tk" font-size="5.7" textLength="4.2" lengthAdjust="spacingAndGlyphs">80</text>
<text x="330.9" y="199.5" text-anchor="end" class="tk" font-size="5.7" textLength="6.3" lengthAdjust="spacingAndGlyphs">100</text>
<text x="340.6" y="346.7" text-anchor="middle" class="tk" font-size="5.7" textLength="4.2" lengthAdjust="spacingAndGlyphs">20</text>
<text x="359.7" y="346.7" text-anchor="middle" class="tk" font-size="5.7" textLength="4.2" lengthAdjust="spacingAndGlyphs">30</text>
<text x="380.4" y="346.7" text-anchor="middle" class="tk" font-size="5.7" textLength="4.2" lengthAdjust="spacingAndGlyphs">40</text>
<text x="401.1" y="346.7" text-anchor="middle" class="tk" font-size="5.7" textLength="4.2" lengthAdjust="spacingAndGlyphs">50</text>
<text x="421.8" y="346.7" text-anchor="middle" class="tk" font-size="5.7" textLength="4.2" lengthAdjust="spacingAndGlyphs">60</text>
<text x="442.5" y="346.7" text-anchor="middle" class="tk" font-size="5.7" textLength="4.2" lengthAdjust="spacingAndGlyphs">70</text>
<text x="463.2" y="346.7" text-anchor="middle" class="tk" font-size="5.7" textLength="4.2" lengthAdjust="spacingAndGlyphs">80</text>
<text x="483.9" y="346.7" text-anchor="middle" class="tk" font-size="5.7" textLength="4.2" lengthAdjust="spacingAndGlyphs">90</text>
<text x="504.6" y="346.7" text-anchor="middle" class="tk" font-size="5.7" textLength="6.3" lengthAdjust="spacingAndGlyphs">100</text>
<text x="525.3" y="346.7" text-anchor="middle" class="tk" font-size="5.7" textLength="6.3" lengthAdjust="spacingAndGlyphs">110</text>
<text x="541" y="346.7" text-anchor="middle" class="tk" font-size="5.7" textLength="6.3" lengthAdjust="spacingAndGlyphs">120</text>
<path d="M339.91 325.08 L357.76 325.08 L359.37 324.96 L361.98 324.5 L362.77 324.51 L364.26 324.73 L364.96 324.76 L367.03 324.47 L367.69 324.44 L368.52 324.53 L370.51 324.97 L371.71 325.1 L382.06 325.27 L388.72 325.49 L394.31 325.81 L406.49 326.68 L413.94 327.03 L424.08 327.22 L440.47 327.28 L442.88 327.21 L444.61 326.93 L446.23 326.44 L446.73 326.2 L447.06 325.95 L447.31 325.64 L447.51 325.23 L447.89 323.83 L448.22 321.36 L448.51 317.85 L449.46 301.44 L449.67 299.48 L449.75 299.1 L449.83 298.99 L449.96 299.19 L450.08 299.76 L450.37 302.36 L451.32 316.17 L451.78 321.23 L452.03 323.09 L452.27 324.42 L452.52 325.32 L452.85 326.07 L453.23 326.54 L453.76 326.89 L454.47 327.12 L455.38 327.24 L457.2 327.29 L464.9 327.29 L465.98 327.24 L466.72 327.1 L467.22 326.87 L467.59 326.58 L467.88 326.2 L468.13 325.66 L468.5 324.13 L468.83 321.35 L469.08 317.86 L469.33 312.87 L470.24 288.06 L470.45 284.75 L470.57 283.86 L470.66 283.75 L470.78 284.14 L470.9 285.09 L471.15 288.5 L472.19 311.38 L472.48 316.45 L472.77 320.18 L473.1 323 L473.47 324.84 L473.72 325.56 L473.97 326.04 L474.3 326.45 L474.67 326.74 L475.33 327 L475.91 326.98 L476.37 326.69 L476.78 326.03 L477.11 325.12 L477.4 324.02 L478.56 318.25 L478.81 317.46 L479.02 317.12 L479.23 317.08 L479.47 317.2 L479.72 317.45 L480.01 317.89 L480.47 318.84 L481.54 321.47 L482.08 322.47 L482.54 322.95 L482.79 323.04 L482.99 323.02 L483.24 322.88 L483.53 322.57 L484.11 321.5 L484.61 320.21 L485.77 316.79 L486.3 315.5 L486.8 314.72 L487.05 314.52 L487.3 314.46 L487.5 314.55 L487.71 314.82 L488.17 315.96 L488.58 317.49 L489.82 322.8 L490.24 324.23 L490.65 325.35 L491.11 326.24 L491.64 326.91 L492.22 327.31 L493.01 327.59 L496.9 328.19 L500.46 328.43 L505.39 328.49 L520.75 328.5 L522.57 328.46 L523.81 328.34 L524.85 328.13 L526.88 327.55 L527.95 327.43 L528.95 327.56 L531.43 328.26 L532.92 328.45 L535.03 328.5 L544.84 328.5" stroke="#0a0a0a" stroke-width="0.7" fill="none" stroke-linejoin="round"/>
<text x="445" y="296.7" class="pk" textLength="9.5" lengthAdjust="spacingAndGlyphs">Glc</text>
<text x="466.3" y="281.7" class="pk" textLength="8.7" lengthAdjust="spacingAndGlyphs">Gal</text>
<text x="475.3" y="314.2" class="pk" textLength="8.9" lengthAdjust="spacingAndGlyphs">Xyl</text>
<text x="488.7" y="311.7" class="pk" textLength="8.8" lengthAdjust="spacingAndGlyphs">Ara</text>
<text x="358.6" y="209.7" class="ti" textLength="26.2" lengthAdjust="spacingAndGlyphs">(<tspan font-weight="bold">D</tspan>) EN</text>
<text transform="translate(322 263.5) rotate(-90)" text-anchor="middle" font-size="6.4" class="al" textLength="63" lengthAdjust="spacingAndGlyphs">Signal intensity (mV)</text>
<text x="427.5" y="356.7" font-size="6.9" class="al" textLength="33.8" lengthAdjust="spacingAndGlyphs">Time (min)</text>
</g>
</svg>
</body>
</html>
